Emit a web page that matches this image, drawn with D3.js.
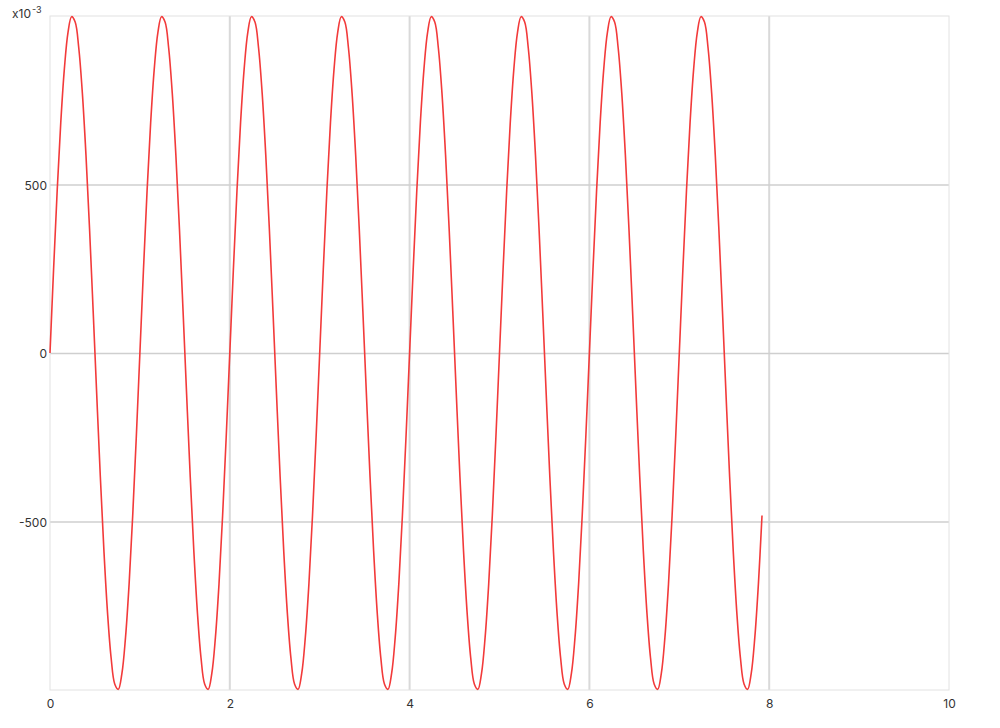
<!DOCTYPE html>
<html>
<head>
<meta charset="utf-8">
<script src="https://cdn.jsdelivr.net/npm/d3@7"></script>
<style>
  body { margin: 0; background: #fff; }
  text { font-family: Inter, "Noto Sans", sans-serif; }
</style>
</head>
<body>
<div class="canvas"></div>
<script>
// samples, every 0.04 on x, starting at 0
const sampleStep = 0.04
const yValues = [
  0, 0.249, 0.482, 0.685, 0.844, 0.951, 0.998, 0.982, 0.905, 0.771, 0.588, 0.368, 0.125, -0.125, -0.368, -0.588, -0.771, -0.905, -0.982, -0.998, -0.951, -0.844, -0.685, -0.482, -0.249,
  0, 0.249, 0.482, 0.685, 0.844, 0.951, 0.998, 0.982, 0.905, 0.771, 0.588, 0.368, 0.125, -0.125, -0.368, -0.588, -0.771, -0.905, -0.982, -0.998, -0.951, -0.844, -0.685, -0.482, -0.249,
  0, 0.249, 0.482, 0.685, 0.844, 0.951, 0.998, 0.982, 0.905, 0.771, 0.588, 0.368, 0.125, -0.125, -0.368, -0.588, -0.771, -0.905, -0.982, -0.998, -0.951, -0.844, -0.685, -0.482, -0.249,
  0, 0.249, 0.482, 0.685, 0.844, 0.951, 0.998, 0.982, 0.905, 0.771, 0.588, 0.368, 0.125, -0.125, -0.368, -0.588, -0.771, -0.905, -0.982, -0.998, -0.951, -0.844, -0.685, -0.482, -0.249,
  0, 0.249, 0.482, 0.685, 0.844, 0.951, 0.998, 0.982, 0.905, 0.771, 0.588, 0.368, 0.125, -0.125, -0.368, -0.588, -0.771, -0.905, -0.982, -0.998, -0.951, -0.844, -0.685, -0.482, -0.249,
  0, 0.249, 0.482, 0.685, 0.844, 0.951, 0.998, 0.982, 0.905, 0.771, 0.588, 0.368, 0.125, -0.125, -0.368, -0.588, -0.771, -0.905, -0.982, -0.998, -0.951, -0.844, -0.685, -0.482, -0.249,
  0, 0.249, 0.482, 0.685, 0.844, 0.951, 0.998, 0.982, 0.905, 0.771, 0.588, 0.368, 0.125, -0.125, -0.368, -0.588, -0.771, -0.905, -0.982, -0.998, -0.951, -0.844, -0.685, -0.482, -0.249,
  0, 0.249, 0.482, 0.685, 0.844, 0.951, 0.998, 0.982, 0.905, 0.771, 0.588, 0.368, 0.125, -0.125, -0.368, -0.588, -0.771, -0.905, -0.982, -0.998, -0.951, -0.844, -0.685, -0.482
]
const xTicks = [0, 2, 4, 6, 8, 10]
const yTicks = [-0.5, 0, 0.5]
const yUnitLabel = 'x10'
const yUnitExp = '-3'

const width = 1000
const height = 728
const margin = {top: 16, right: 51, bottom: 38, left: 50}
const graphWidth = width - margin.left - margin.right
const graphHeight = height - margin.top - margin.bottom

const svg = d3.select('.canvas').append('svg').attr('width', width).attr('height', height)

const graph = svg.append('g')
    .attr('transform', `translate(${margin.left}, ${margin.top})`)

const x = d3.scaleLinear().domain([0, 10]).range([0, graphWidth])
const y = d3.scaleLinear().domain([-1, 1]).range([graphHeight, 0])

// grid lines
graph.append('g').selectAll('line')
    .data(xTicks.slice(1, -1))
    .enter().append('line')
        .attr('x1', d => x(d)).attr('x2', d => x(d))
        .attr('y1', 0).attr('y2', graphHeight)
        .attr('stroke', '#d9d9d9')
        .attr('stroke-width', 2)

graph.append('g').selectAll('line')
    .data(yTicks)
    .enter().append('line')
        .attr('x1', 0).attr('x2', graphWidth)
        .attr('y1', d => y(d) + 0.5).attr('y2', d => y(d) + 0.5)
        .attr('stroke', '#cfcfcf')
        .attr('stroke-width', 1.5)

// frame
graph.append('rect')
    .attr('x', 0).attr('y', 0)
    .attr('width', graphWidth).attr('height', graphHeight)
    .attr('fill', 'none')
    .attr('stroke', '#e2e2e2')
    .attr('stroke-width', 1)

// axes, ticks hidden, only labels kept
const xAxis = d3.axisBottom(x).tickValues(xTicks).tickSize(0).tickPadding(9)
const yAxis = d3.axisLeft(y).tickValues(yTicks).tickSize(0).tickPadding(3)
    .tickFormat(d => String(Math.round(d * 1000)))

const xAxisGraph = graph.append('g').attr('transform', `translate(0, ${graphHeight})`).call(xAxis)
const yAxisGraph = graph.append('g').attr('transform', 'translate(0, 1)').call(yAxis)

;[xAxisGraph, yAxisGraph].forEach(g => {
    g.select('.domain').remove()
    g.selectAll('text').attr('font-size', 12).attr('fill', '#333')
        .style('font-family', 'Inter, "Noto Sans", sans-serif')
})

// unit label
const unit = svg.append('text')
    .attr('x', 12).attr('y', 18)
    .attr('font-size', 12)
    .attr('fill', '#333')
unit.append('tspan').text(yUnitLabel)
unit.append('tspan').attr('dy', -5).attr('dx', 1).attr('font-size', 9).text(yUnitExp)

// the curve
const line = d3.line()
    .x((d, i) => x(i * sampleStep))
    .y(d => y(d))
    .curve(d3.curveCatmullRom)

graph.append('path')
    .datum(yValues)
    .attr('fill', 'none')
    .attr('stroke', '#f23a3a')
    .attr('stroke-width', 1.6)
    .attr('d', line)
</script>
</body>
</html>
